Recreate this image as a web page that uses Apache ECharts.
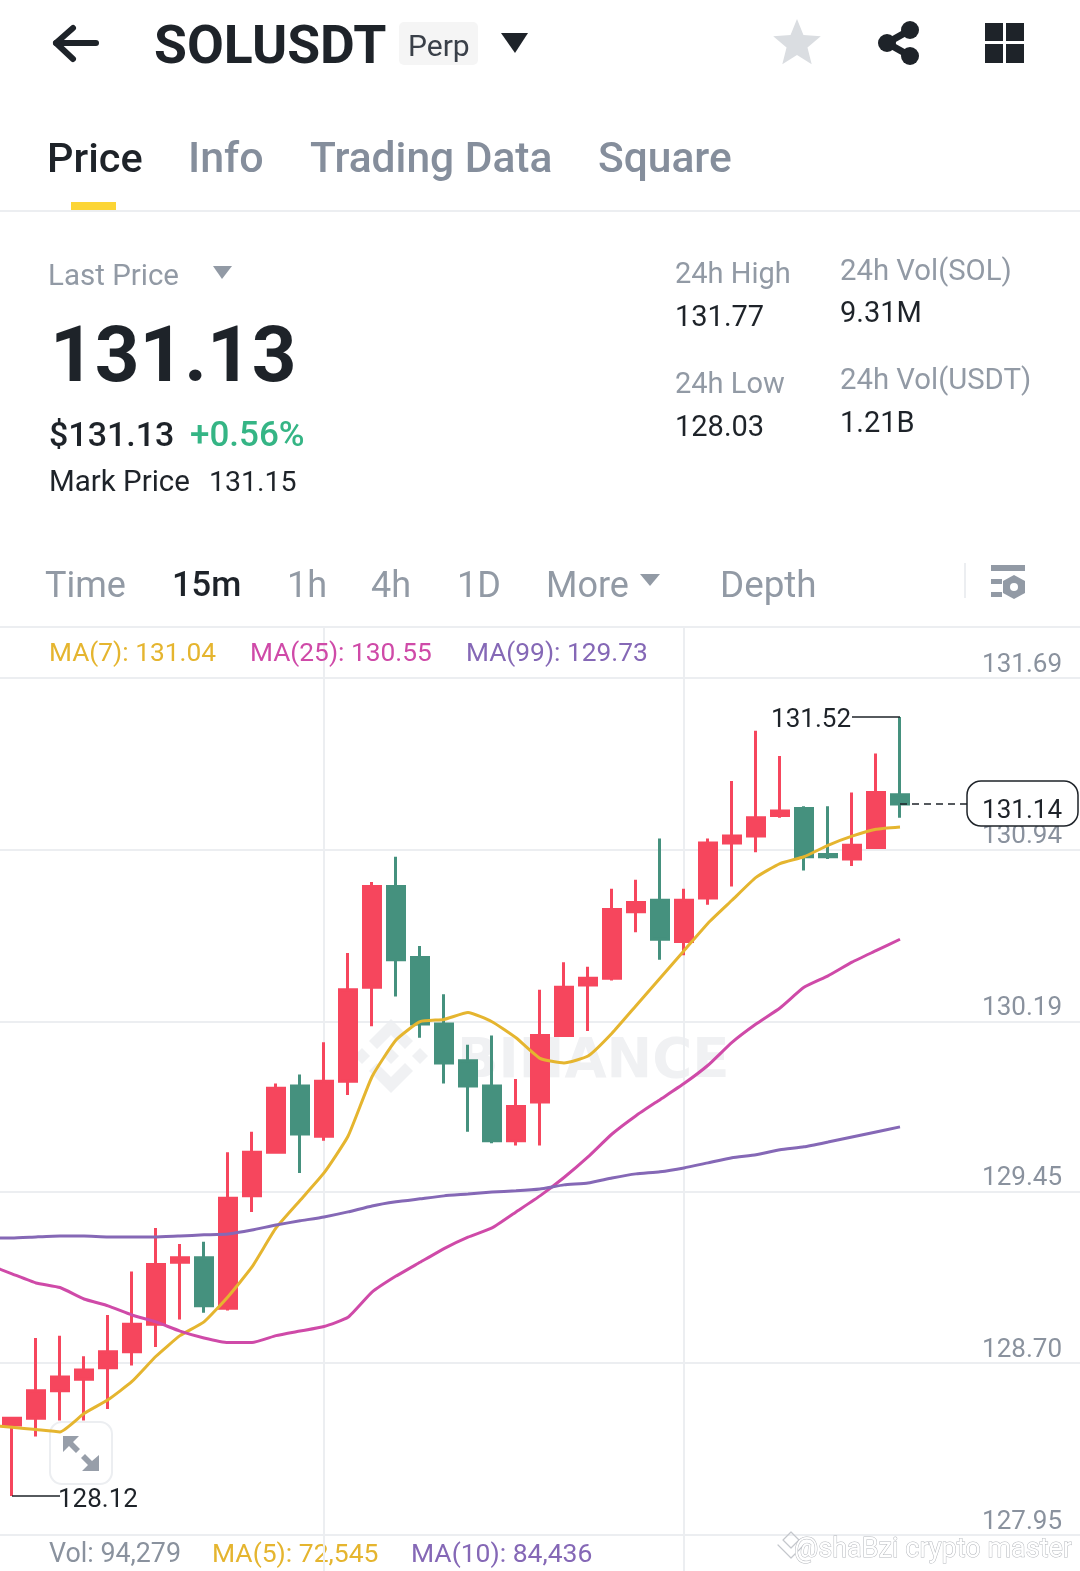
<!DOCTYPE html>
<html>
<head>
<meta charset="utf-8">
<title>SOLUSDT</title>
<style>
html, body { margin: 0; padding: 0; background: #fff; }
#container { width: 1080px; height: 1571px; }
</style>
<script src="https://cdn.jsdelivr.net/npm/echarts@6/dist/echarts.min.js"></script>
</head>
<body>
<div id="container"></div>
<script>
// candles, oldest first
var opens = [128.43, 128.46, 128.58, 128.63, 128.68, 128.75, 128.87, 129.14, 129.16, 128.94, 129.43, 129.62, 129.91, 129.69, 129.93, 130.34, 130.78, 130.47, 130.18, 130.02, 129.91, 129.67, 129.84, 130.13, 130.35, 130.38, 130.67, 130.72, 130.54, 130.73, 130.97, 131.00, 131.09, 131.12, 130.92, 130.90, 130.95, 131.18];
var closes = [128.46, 128.58, 128.64, 128.67, 128.75, 128.87, 129.13, 129.16, 128.95, 129.42, 129.62, 129.90, 129.70, 129.93, 130.33, 130.78, 130.46, 130.18, 130.01, 129.91, 129.67, 129.82, 130.13, 130.34, 130.38, 130.68, 130.71, 130.55, 130.72, 130.97, 131.00, 131.08, 131.11, 130.91, 130.91, 130.96, 131.19, 131.14];
var highs = [128.46, 128.81, 128.82, 128.73, 128.91, 129.10, 129.29, 129.22, 129.23, 129.62, 129.71, 129.92, 129.96, 130.10, 130.49, 130.80, 130.91, 130.52, 130.31, 130.09, 130.13, 129.94, 130.33, 130.45, 130.43, 130.77, 130.81, 130.99, 130.77, 130.99, 131.24, 131.46, 131.35, 131.13, 131.13, 131.19, 131.36, 131.52];
var lows = [128.12, 128.38, 128.45, 128.45, 128.50, 128.69, 128.77, 128.89, 128.92, 128.93, 129.36, 129.62, 129.53, 129.67, 129.87, 130.17, 130.30, 130.12, 129.92, 129.71, 129.66, 129.65, 129.65, 130.13, 130.15, 130.37, 130.58, 130.46, 130.48, 130.70, 130.78, 130.93, 131.08, 130.85, 130.90, 130.87, 130.95, 131.08];

// moving averages, first value is the point just off the left edge
var ma7 = [128.43, 128.42, 128.41, 128.40, 128.48, 128.54, 128.62, 128.73, 128.82, 128.88, 128.99, 129.12, 129.29, 129.41, 129.53, 129.69, 129.95, 130.11, 130.19, 130.20, 130.23, 130.19, 130.12, 130.03, 130.01, 130.04, 130.14, 130.26, 130.38, 130.50, 130.62, 130.72, 130.82, 130.88, 130.91, 130.96, 131.00, 131.03, 131.04];
var ma25 = [129.13, 129.09, 129.05, 129.03, 128.98, 128.95, 128.91, 128.88, 128.84, 128.81, 128.79, 128.79, 128.82, 128.84, 128.86, 128.90, 129.01, 129.08, 129.14, 129.20, 129.25, 129.29, 129.36, 129.43, 129.51, 129.60, 129.70, 129.78, 129.85, 129.92, 130.00, 130.10, 130.18, 130.25, 130.34, 130.39, 130.45, 130.50, 130.55];
var ma99 = [129.246, 129.246, 129.251, 129.255, 129.255, 129.251, 129.251, 129.251, 129.255, 129.260, 129.264, 129.281, 129.303, 129.321, 129.338, 129.360, 129.386, 129.404, 129.417, 129.430, 129.438, 129.447, 129.452, 129.460, 129.478, 129.486, 129.508, 129.526, 129.535, 129.552, 129.574, 129.596, 129.609, 129.631, 129.644, 129.665, 129.687, 129.709, 129.731];

var priceTicks = [131.69, 130.94, 130.19, 129.45, 128.70, 127.95];
var lastPrice = 131.14;
var highPrice = 131.52;
var lowPrice = 128.12;

var slotCount = 46;
var slots = [];
for (var s = 0; s < slotCount; s++) { slots.push(String(s)); }
var dayLineSlots = [14, 29];

var RED = '#f6465d', GREEN = '#45917e', DARK = '#1e2329', GRAY = '#8a929e', LINE = '#eceef1';
var YELLOW = '#e5b52f', PINK = '#cf4aa8', PURPLE = '#8568b6';
var FONT = 'Roboto';

function txt(text, x, y, size, color, weight, align, font) {
    return {
        type: 'text', z: 10, silent: true,
        style: {
            text: text, x: x, y: y + size * 0.1 + 1, fill: color, align: align || 'left', verticalAlign: 'middle',
            font: (weight || 'normal') + ' ' + size + 'px ' + (font || FONT)
        }
    };
}
function rect(x, y, w, h, color, r) {
    return { type: 'rect', z: 10, silent: true, shape: { x: x, y: y, width: w, height: h, r: r || 0 }, style: { fill: color } };
}
function poly(points, color, z) {
    return { type: 'polygon', z: z || 10, silent: true, shape: { points: points }, style: { fill: color } };
}
function stroke(points, color, width) {
    return { type: 'polyline', z: 10, silent: true, shape: { points: points }, style: { stroke: color, lineWidth: width, fill: null, lineCap: 'round', lineJoin: 'round' } };
}
function shifted(points, dx, dy) {
    return points.map(function (p) { return [p[0] + dx, p[1] + dy]; });
}

var starPoints = [];
for (var n = 0; n < 10; n++) {
    var rad = n % 2 ? 11 : 25, ang = -Math.PI / 2 + n * Math.PI / 5;
    starPoints.push([797 + rad * Math.cos(ang), 44 + rad * Math.sin(ang)]);
}

var chrome = [
    // header
    stroke([[56, 43], [96, 43]], DARK, 6),
    stroke([[73, 28], [56, 43], [73, 59]], DARK, 6),
    txt('SOLUSDT', 154, 43, 53.5, DARK, 'bold'),
    rect(399, 22, 79, 43, '#f5f5f5', 5),
    txt('Perp', 408, 44, 30, '#3a4049'),
    poly([[501, 33], [528, 33], [515, 53]], DARK),
    poly(starPoints, '#dadde1'),
    stroke([[887, 43], [910, 30]], DARK, 7),
    stroke([[887, 43], [910, 56]], DARK, 7),
    { type: 'circle', z: 10, silent: true, shape: { cx: 887, cy: 43, r: 9 }, style: { fill: DARK } },
    { type: 'circle', z: 10, silent: true, shape: { cx: 910, cy: 30, r: 9 }, style: { fill: DARK } },
    { type: 'circle', z: 10, silent: true, shape: { cx: 910, cy: 56, r: 9 }, style: { fill: DARK } },
    rect(985, 23, 18, 18, DARK), rect(1006, 23, 18, 18, DARK),
    rect(985, 44, 18, 19, DARK), rect(1006, 44, 18, 19, DARK),

    // tabs
    txt('Price', 47, 156, 41.5, DARK, '500'),
    txt('Info', 188, 156, 43, '#858e9c', '500'),
    txt('Trading Data', 310, 156, 42.5, '#858e9c', '500'),
    txt('Square', 598, 156, 42.5, '#858e9c', '500'),
    rect(71, 202, 45, 9, '#fcd535'),
    rect(0, 210, 1080, 2, LINE),

    // price block
    txt('Last Price', 48, 274, 29.5, '#929aa5'),
    poly([[213, 266], [232, 266], [222, 279]], '#929aa5'),
    txt('131.13', 50, 353, 78, DARK, 'bold'),
    txt('$131.13', 49, 433, 34, DARK, '500'),
    txt('+0.56%', 190, 433, 35, '#35b585', '500'),
    txt('Mark Price', 49, 480, 29.5, DARK),
    txt('131.15', 209, 480, 28.5, DARK),
    txt('24h High', 675, 272, 29, '#929aa5'),
    txt('131.77', 675, 315, 29, DARK),
    txt('24h Low', 675, 382, 29, '#929aa5'),
    txt('128.03', 675, 425, 29, DARK),
    txt('24h Vol(SOL)', 840, 269, 29.3, '#929aa5'),
    txt('9.31M', 840, 311, 29, DARK),
    txt('24h Vol(USDT)', 840, 378, 29.3, '#929aa5'),
    txt('1.21B', 840, 421, 29, DARK),

    // interval row
    txt('Time', 45, 583, 36, '#929aa5'),
    txt('15m', 172, 583, 34.5, DARK, '500'),
    txt('1h', 287, 583, 36, '#929aa5'),
    txt('4h', 371, 583, 36, '#929aa5'),
    txt('1D', 457, 583, 36, '#929aa5'),
    txt('More', 546, 583, 36, '#929aa5'),
    poly([[640, 574], [660, 574], [650, 586]], '#929aa5'),
    txt('Depth', 720, 583, 36.8, '#929aa5'),
    rect(964, 563, 2, 35, LINE),
    rect(991, 565, 34, 6, '#929aa5'),
    rect(991, 579, 11, 5, '#929aa5'),
    rect(991, 592, 11, 5, '#929aa5'),
    poly([[1014, 575], [1025, 581], [1025, 593], [1014, 599], [1003, 593], [1003, 581]], '#929aa5'),
    { type: 'circle', z: 10, silent: true, shape: { cx: 1014, cy: 587, r: 4 }, style: { fill: '#fff' } },
    rect(0, 626, 1080, 2, LINE),

    // legends
    txt('MA(7): 131.04', 49, 651, 26.3, YELLOW),
    txt('MA(25): 130.55', 250, 651, 26.3, PINK),
    txt('MA(99): 129.73', 466, 651, 26.3, PURPLE),
    txt('Vol: 94,279', 49, 1552, 26.8, GRAY),
    txt('MA(5): 72,545', 212, 1552, 26.5, YELLOW),
    txt('MA(10): 84,436', 411, 1552, 26.5, PURPLE),
    rect(323, 1535, 2, 36, LINE),
    rect(683, 1535, 2, 36, LINE),

    // current price box
    { type: 'rect', z: 10, silent: true, shape: { x: 967, y: 781, width: 111, height: 45, r: 14 }, style: { fill: '#fff', stroke: DARK, lineWidth: 1.5 } },
    txt('131.14', 1062, 808, 26, DARK, 'normal', 'right'),

    // expand button, the moving averages run over it
    { type: 'rect', z: -1, silent: true, shape: { x: 50, y: 1422, width: 62, height: 62, r: 12 }, style: { fill: '#fff', stroke: '#eceef1', lineWidth: 2 } },
    poly([[63, 1436], [79, 1436], [73, 1442], [80, 1449], [76, 1453], [69, 1446], [63, 1452]], '#979ea9', -1),
    poly([[99, 1471], [82, 1471], [88, 1465], [81, 1458], [85, 1454], [92, 1461], [99, 1455]], '#979ea9', -1),

    // weibo mark
    stroke(shifted([[0, -9], [8, -1], [0, 7], [-8, -1], [0, -9]], 791, 1541), '#c4c7cc', 1.2),
    stroke(shifted([[-13, 0], [0, 13], [13, 0]], 791, 1545), '#c4c7cc', 1.2),
    {
        type: 'text', z: 10, silent: true,
        style: { text: '@shaBzi crypto master', x: 1072, y: 1550, align: 'right', verticalAlign: 'middle', font: '27px ' + FONT, fill: '#fff', stroke: '#b5b8bd', lineWidth: 1 }
    },

    // chart watermark, under the candles
    {
        type: 'text', z: -1, silent: true,
        style: { text: 'BINANCE', x: 457, y: 1063, verticalAlign: 'middle', font: 'bold 54.5px "DejaVu Sans"', fill: '#f0f1f3' }
    },
    poly(shifted([[0, -37], [22, -15], [14, -7], [0, -21], [-14, -7], [-22, -15]], 391, 1056), '#f0f1f3', -1),
    poly(shifted([[0, 37], [22, 15], [14, 7], [0, 21], [-14, 7], [-22, 15]], 391, 1056), '#f0f1f3', -1),
    poly(shifted([[-37, 0], [-29, -8], [-21, 0], [-29, 8]], 391, 1056), '#f0f1f3', -1),
    poly(shifted([[37, 0], [29, -8], [21, 0], [29, 8]], 391, 1056), '#f0f1f3', -1),
    poly(shifted([[0, -8], [8, 0], [0, 8], [-8, 0]], 391, 1056), '#f0f1f3', -1)
];

// slot 0 only carries the line lead-in, candles start at slot 1
var candleData = [['-', '-', '-', '-']];
opens.forEach(function (o, i) {
    candleData.push([o, closes[i], lows[i], highs[i]]);
});
var lastSlot = opens.length;

function maSeries(name, values, color) {
    return {
        name: name, type: 'line', data: values, showSymbol: false, symbol: 'none', silent: true,
        smooth: 0.15,
        lineStyle: { color: color, width: 3 }, z: 4
    };
}

var myChart = echarts.init(document.getElementById('container'));
myChart.setOption({
    animation: false,
    backgroundColor: '#fff',
    textStyle: { fontFamily: FONT },
    grid: { left: -24, right: 0, top: 627, bottom: 36, containLabel: false, outerBoundsMode: 'none' },
    xAxis: {
        type: 'category',
        data: slots,
        boundaryGap: true,
        axisLine: { show: false },
        axisTick: { show: false },
        axisLabel: { show: false },
        splitLine: {
            show: true,
            alignWithLabel: true,
            interval: function (i) { return dayLineSlots.indexOf(i) >= 0; },
            lineStyle: { color: LINE, width: 2 }
        }
    },
    yAxis: {
        type: 'value',
        position: 'right',
        min: 127.95,
        max: 131.9126,
        axisLine: { show: false },
        axisTick: { show: false, customValues: priceTicks },
        axisLabel: {
            inside: true,
            margin: 18,
            customValues: priceTicks,
            color: GRAY,
            fontSize: 26,
            fontFamily: FONT,
            verticalAlign: 'bottom',
            lineHeight: 26,
            formatter: function (v) { return v.toFixed(2); }
        },
        splitLine: { show: true, lineStyle: { color: LINE, width: 2 } }
    },
    series: [
        {
            name: 'SOLUSDT',
            type: 'candlestick',
            data: candleData,
            barWidth: 18,
            silent: true,
            z: 3,
            itemStyle: { color: RED, color0: GREEN, borderColor: RED, borderColor0: GREEN, borderWidth: 3 },
            markLine: {
                silent: true,
                animation: false,
                symbol: 'none',
                data: [
                    [
                        {
                            coord: [String(lastSlot - 2), highPrice],
                            lineStyle: { color: DARK, width: 1.5, type: 'solid' },
                            label: { show: true, position: 'start', formatter: highPrice.toFixed(2), color: DARK, fontSize: 26, fontFamily: FONT, distance: 3, offset: [2, 4] }
                        },
                        { coord: [String(lastSlot), highPrice] }
                    ],
                    [
                        {
                            coord: ['1', lowPrice],
                            lineStyle: { color: DARK, width: 1.5, type: 'solid' },
                            label: { show: true, position: 'end', formatter: lowPrice.toFixed(2), color: DARK, fontSize: 26, fontFamily: FONT, distance: 0, offset: [-2, 4] }
                        },
                        { coord: ['3', lowPrice] }
                    ],
                    [
                        {
                            coord: [String(lastSlot), lastPrice],
                            lineStyle: { color: DARK, width: 1.5, type: [7, 5] },
                            label: { show: false }
                        },
                        { coord: [String(lastSlot + 3), lastPrice] }
                    ]
                ]
            }
        },
        maSeries('MA(7)', ma7, YELLOW),
        maSeries('MA(25)', ma25, PINK),
        maSeries('MA(99)', ma99, PURPLE)
    ],
    graphic: { elements: chrome }
});
</script>
</body>
</html>
